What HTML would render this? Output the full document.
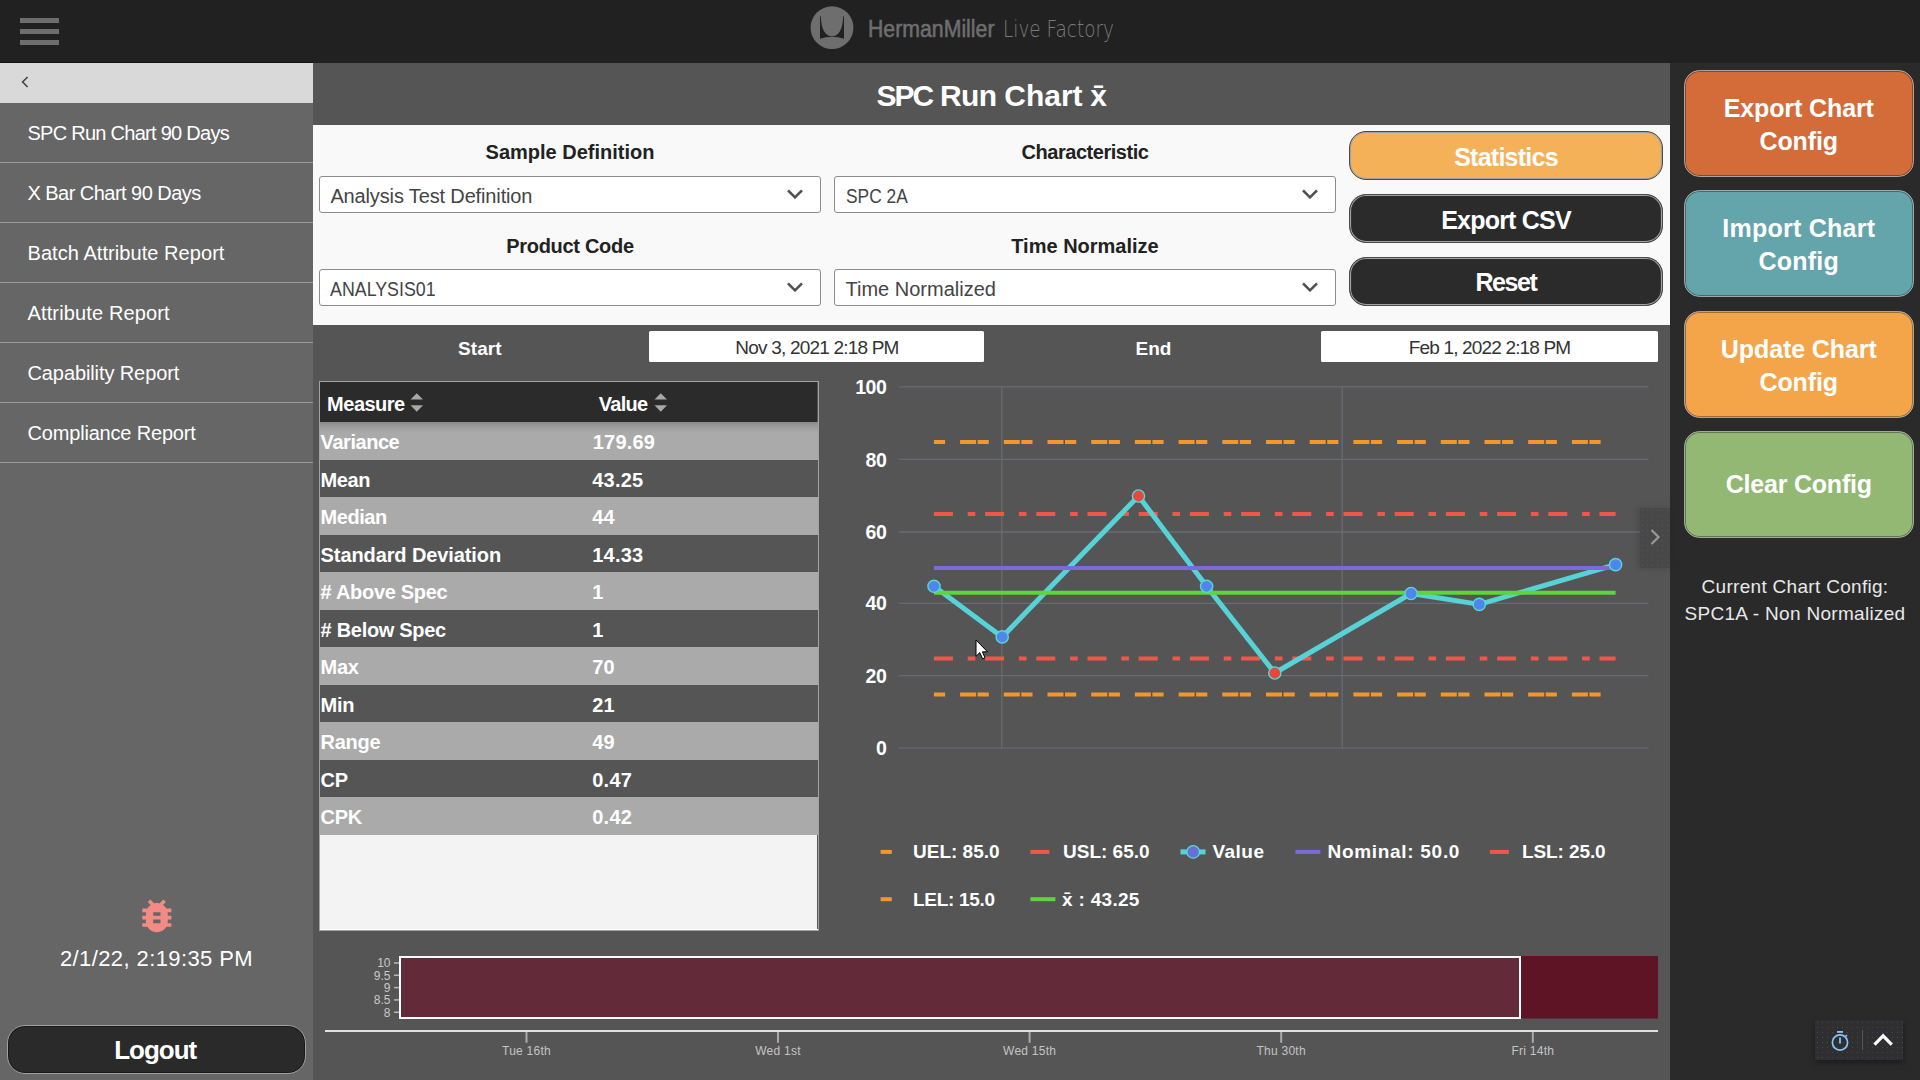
<!DOCTYPE html>
<html><head><meta charset="utf-8"><title>SPC Run Chart</title>
<style>
*{box-sizing:border-box;margin:0;padding:0}
html,body{width:1920px;height:1080px;overflow:hidden;background:#555;font-family:"Liberation Sans",Arial,sans-serif;position:relative}
.a{position:absolute}
.t{position:absolute;line-height:1;white-space:nowrap}
.c{text-align:center}
.b{font-weight:bold}
.hb{position:absolute;left:20px;width:39px;height:5px;background:#6e6e6e}
.sep{position:absolute;left:0;width:313px;height:1px;background:#9a9a9a}
.si{position:absolute;left:27.5px;font-size:20px;line-height:1;color:#fff;letter-spacing:-0.7px;white-space:nowrap}
.sel{position:absolute;width:501.5px;height:36.5px;background:#fff;border:1.3px solid #8c8c8c;border-radius:3px}
.selt{position:absolute;font-size:20px;line-height:1;color:#444;white-space:nowrap}
.lab{position:absolute;width:501px;text-align:center;font-size:20px;line-height:1;font-weight:bold;color:#222;white-space:nowrap}
.btn{position:absolute;left:1349px;width:314px;height:49px;border-radius:17px;border:1.2px solid #4a4a4a;box-shadow:inset 0 0 0 1.1px #a2a2a2}
.btt{position:absolute;left:1349px;width:314px;text-align:center;color:#fff;font-weight:bold;font-size:25px;line-height:1;white-space:nowrap}
.rb{position:absolute;left:1684px;width:229.5px;height:107px;border-radius:15.5px;border:1.2px solid #a4a6a6;box-shadow:inset 0 0 0 1px rgba(0,0,0,0.35)}
.rbt{position:absolute;left:1684px;width:229.5px;color:#fff;font-weight:bold;font-size:25px;line-height:33px;text-align:center;white-space:nowrap;letter-spacing:-0.1px}
.tr{position:absolute;left:320.3px;width:497.5px;height:38px}
.tc{position:absolute;font-size:20px;line-height:1;font-weight:bold;color:#fff;white-space:nowrap}
</style></head>
<body>
<!-- backgrounds -->
<div class="a" style="left:0;top:0;width:1920px;height:63px;background:#212121"></div>
<div class="a" style="left:0;top:62px;width:313px;height:1px;background:#121212"></div>
<div class="a" style="left:0;top:63px;width:313px;height:1017px;background:#666"></div>
<div class="a" style="left:313px;top:63px;width:1357px;height:1017px;background:#555"></div>
<div class="a" style="left:1670px;top:63px;width:250px;height:1017px;background:#2a2a2a"></div>

<!-- TOP BAR -->
<div class="hb" style="top:18px"></div>
<div class="hb" style="top:29px"></div>
<div class="hb" style="top:40px"></div>
<svg class="a" style="left:810px;top:6px" width="45" height="45" viewBox="0 0 45 45">
  <circle cx="22" cy="21.7" r="21.4" fill="#6e6e6e"/>
  <path d="M10 10.2 L10.8 10.2 Q11.5 30 22 30.2 Q32.5 30 33.2 10.2 L34 10.2 L34 32.8 Q22 28.5 10 32.8 Z" fill="#212121"/>
</svg>
<div class="t" style="left:868px;top:18px;font-size:23px;color:#6e6e6e;-webkit-text-stroke:0.55px #6e6e6e;transform:scaleX(0.925);transform-origin:0 0">HermanMiller</div>
<div class="t" style="left:1003px;top:18px;font-size:23px;font-family:'DejaVu Sans',sans-serif;font-weight:200;color:#7a7a7a;transform:scaleX(0.803);transform-origin:0 0">Live Factory</div>

<!-- SIDEBAR -->
<div class="a" style="left:0;top:63px;width:313px;height:39.5px;background:#d9d9d9"></div>
<svg class="a" style="left:20px;top:75px" width="10" height="14" viewBox="0 0 10 14"><path d="M7.6 2 L2.6 7 L7.6 12" fill="none" stroke="#444" stroke-width="1.6"/></svg>
<div class="sep" style="top:162px"></div>
<div class="sep" style="top:222px"></div>
<div class="sep" style="top:282px"></div>
<div class="sep" style="top:342px"></div>
<div class="sep" style="top:402px"></div>
<div class="sep" style="top:462px"></div>
<div class="si" style="top:123px;letter-spacing:-0.73px">SPC Run Chart 90 Days</div>
<div class="si" style="top:183px;letter-spacing:-0.54px">X Bar Chart 90 Days</div>
<div class="si" style="top:243px;letter-spacing:0.06px">Batch Attribute Report</div>
<div class="si" style="top:303px;letter-spacing:0.14px">Attribute Report</div>
<div class="si" style="top:363px;letter-spacing:-0.1px">Capability Report</div>
<div class="si" style="top:423px;letter-spacing:-0.18px">Compliance Report</div>
<svg class="a" style="left:134.6px;top:894.3px" width="43.7" height="43.7" viewBox="0 0 24 24"><path fill="#f28b86" d="M20 8h-2.81c-.45-.78-1.07-1.45-1.82-1.96L17 4.41 15.59 3l-2.17 2.17C12.96 5.06 12.49 5 12 5c-.49 0-.96.06-1.41.17L8.41 3 7 4.41l1.62 1.63C7.880 6.55 7.26 7.22 6.81 8H4v2h2.09c-.05.33-.09.66-.09 1v1H4v2h2v1c0 .34.04.67.09 1H4v2h2.81c1.04 1.79 2.97 3 5.19 3s4.15-1.21 5.19-3H20v-2h-2.09c.05-.33.09-.66.09-1v-1h2v-2h-2v-1c0-.34-.04-.67-.09-1H20V8zm-6 8h-4v-2h4v2zm0-4h-4v-2h4v2z"/></svg>
<div class="t c" style="left:0;width:313px;top:948px;font-size:22px;color:#fff;letter-spacing:0.4px">2/1/22, 2:19:35 PM</div>
<div class="a" style="left:6.7px;top:1024.7px;width:299px;height:49px;background:#2a2a2a;border:1.2px solid #a0a0a0;box-shadow:inset 0 0 0 1px rgba(0,0,0,0.4);border-radius:18px"></div>
<div class="t c b" style="left:5.75px;width:299px;top:1037px;font-size:26px;color:#fff;letter-spacing:-1px">Logout</div>

<!-- MAIN HEADER -->
<div class="t c b" style="left:313px;width:1357px;top:81px;font-size:30px;color:#fff;letter-spacing:-0.6px"><span style="letter-spacing:-2px">SPC</span> Run <span style="letter-spacing:0px">Chart</span> x̄</div>

<!-- FORM PANEL -->
<div class="a" style="left:313px;top:125px;width:1357px;height:200px;background:#f9f9f9"></div>
<div class="lab" style="left:319.5px;top:142px">Sample Definition</div>
<div class="lab" style="left:834.5px;top:142px;letter-spacing:-0.46px">Characteristic</div>
<div class="lab" style="left:319.5px;top:236px;letter-spacing:-0.3px">Product Code</div>
<div class="lab" style="left:834.5px;top:236px">Time Normalize</div>
<div class="sel" style="left:319.3px;top:176.2px"></div>
<div class="sel" style="left:834.2px;top:176.2px"></div>
<div class="sel" style="left:319.3px;top:269.2px"></div>
<div class="sel" style="left:834.2px;top:269.2px"></div>
<div class="selt" style="left:330.4px;top:186px;letter-spacing:-0.14px">Analysis Test Definition</div>
<div class="selt" style="left:845.5px;top:186px;transform:scaleX(0.868);transform-origin:0 0">SPC 2A</div>
<div class="selt" style="left:330.2px;top:279px;transform:scaleX(0.891);transform-origin:0 0">ANALYSIS01</div>
<div class="selt" style="left:845.5px;top:279px;letter-spacing:0px">Time Normalized</div>
<svg class="a" style="left:787px;top:189px" width="16" height="10" viewBox="0 0 16 10"><path d="M1 1.3 L8 8.3 L15 1.3" fill="none" stroke="#505050" stroke-width="2.6"/></svg>
<svg class="a" style="left:1302px;top:189px" width="16" height="10" viewBox="0 0 16 10"><path d="M1 1.3 L8 8.3 L15 1.3" fill="none" stroke="#505050" stroke-width="2.6"/></svg>
<svg class="a" style="left:787px;top:282px" width="16" height="10" viewBox="0 0 16 10"><path d="M1 1.3 L8 8.3 L15 1.3" fill="none" stroke="#505050" stroke-width="2.6"/></svg>
<svg class="a" style="left:1302px;top:282px" width="16" height="10" viewBox="0 0 16 10"><path d="M1 1.3 L8 8.3 L15 1.3" fill="none" stroke="#505050" stroke-width="2.6"/></svg>
<div class="btn" style="top:131px;background:#f5b158"></div>
<div class="btn" style="top:194px;background:#2b2b2b"></div>
<div class="btn" style="top:256.5px;background:#2b2b2b"></div>
<div class="btt" style="top:145.3px;letter-spacing:-0.75px">Statistics</div>
<div class="btt" style="top:207.7px;letter-spacing:-0.8px">Export CSV</div>
<div class="btt" style="top:270.3px;letter-spacing:-1.4px">Reset</div>

<!-- DATE ROW -->
<div class="t b" style="left:458px;top:339px;font-size:19px;color:#fff;letter-spacing:0.1px">Start</div>
<div class="a" style="left:649.4px;top:331.1px;width:334.9px;height:31.2px;background:#fff;border-radius:1.5px"></div>
<div class="t c" style="left:649.7px;width:334.6px;top:338px;font-size:19px;color:#333;letter-spacing:-0.8px">Nov 3, 2021 2:18 PM</div>
<div class="t b" style="left:1135.5px;top:339px;font-size:19px;color:#fff">End</div>
<div class="a" style="left:1321.4px;top:331.2px;width:336.4px;height:31px;background:#fff;border-radius:1.5px"></div>
<div class="t c" style="left:1321.4px;width:336.4px;top:338px;font-size:19px;color:#333;letter-spacing:-0.84px">Feb 1, 2022 2:18 PM</div>

<!-- TABLE -->
<div class="a" style="left:319px;top:381px;width:499.5px;height:549.5px;border:1.3px solid #a2a2a2;background:#555"></div>
<div class="a" style="left:320.3px;top:834px;width:497.2px;height:95px;background:#f3f3f3"></div>
<div class="a" style="left:320.3px;top:382.3px;width:497.2px;height:39.5px;background:#2b2b2b"></div>
<div class="tc" style="left:327.1px;top:394px;letter-spacing:-0.5px">Measure</div>
<div class="tc" style="left:598.7px;top:394px;letter-spacing:-0.7px">Value</div>
<svg class="a" style="left:409.5px;top:392.5px" width="14" height="19" viewBox="0 0 14 19"><path d="M0.5 6.5 L6.75 0.3 L13 6.5Z M0.5 12.2 L6.75 18.7 L13 12.2Z" fill="#a8a8a8"/></svg>
<svg class="a" style="left:653.5px;top:392.5px" width="14" height="19" viewBox="0 0 14 19"><path d="M0.5 6.5 L6.75 0.3 L13 6.5Z M0.5 12.2 L6.75 18.7 L13 12.2Z" fill="#a8a8a8"/></svg>
<div class="tr" style="top:421.8px;background:linear-gradient(#8c8c8c,#a0a0a0 6px,#aaa 11px,#aaa)"></div>
<div class="tr" style="top:459.5px;background:#555"></div>
<div class="tr" style="top:497px;background:#aaa"></div>
<div class="tr" style="top:534.5px;background:#555"></div>
<div class="tr" style="top:572px;background:#aaa"></div>
<div class="tr" style="top:609.5px;background:#555"></div>
<div class="tr" style="top:647px;background:#aaa"></div>
<div class="tr" style="top:684.5px;background:#555"></div>
<div class="tr" style="top:722px;background:#aaa"></div>
<div class="tr" style="top:759.5px;background:#555"></div>
<div class="tr" style="top:797px;background:#aaa"></div>
<div class="a" style="left:320px;top:928.6px;width:498px;height:1px;background:#fff"></div>
<div class="tc" style="left:320.6px;top:432px;letter-spacing:-0.45px">Variance</div>
<div class="tc" style="left:320.6px;top:469.5px;letter-spacing:-0.45px">Mean</div>
<div class="tc" style="left:320.6px;top:507px;letter-spacing:-0.45px">Median</div>
<div class="tc" style="left:320.6px;top:544.5px;letter-spacing:-0.1px">Standard Deviation</div>
<div class="tc" style="left:320.6px;top:582px;letter-spacing:-0.3px"># Above Spec</div>
<div class="tc" style="left:320.6px;top:619.5px;letter-spacing:-0.3px"># Below Spec</div>
<div class="tc" style="left:320.6px;top:657px;letter-spacing:-0.3px">Max</div>
<div class="tc" style="left:320.6px;top:694.5px;letter-spacing:-0.3px">Min</div>
<div class="tc" style="left:320.6px;top:732px;letter-spacing:-0.3px">Range</div>
<div class="tc" style="left:320.6px;top:769.5px;letter-spacing:-0.3px">CP</div>
<div class="tc" style="left:320.6px;top:807px;letter-spacing:-0.3px">CPK</div>
<div class="tc" style="left:592.8px;top:432px;letter-spacing:0.2px">179.69</div>
<div class="tc" style="left:592.3px;top:469.5px;letter-spacing:0.2px">43.25</div>
<div class="tc" style="left:592.3px;top:507px;letter-spacing:0.2px">44</div>
<div class="tc" style="left:592.3px;top:544.5px;letter-spacing:0.2px">14.33</div>
<div class="tc" style="left:592.3px;top:582px;letter-spacing:0.2px">1</div>
<div class="tc" style="left:592.3px;top:619.5px;letter-spacing:0.2px">1</div>
<div class="tc" style="left:592.3px;top:657px;letter-spacing:0.2px">70</div>
<div class="tc" style="left:592.3px;top:694.5px;letter-spacing:0.2px">21</div>
<div class="tc" style="left:592.3px;top:732px;letter-spacing:0.2px">49</div>
<div class="tc" style="left:592.3px;top:769.5px;letter-spacing:0.2px">0.47</div>
<div class="tc" style="left:592.3px;top:807px;letter-spacing:0.2px">0.42</div>

<!-- CHART -->
<svg class="a" style="left:0;top:0" width="1920" height="1080" viewBox="0 0 1920 1080">
<line x1="899" y1="386.9" x2="1648.5" y2="386.9" stroke="#686b72" stroke-width="1.3"/>
<line x1="899" y1="459.4" x2="1648.5" y2="459.4" stroke="#686b72" stroke-width="1.3"/>
<line x1="899" y1="532.0" x2="1648.5" y2="532.0" stroke="#686b72" stroke-width="1.3"/>
<line x1="899" y1="603.3" x2="1648.5" y2="603.3" stroke="#686b72" stroke-width="1.3"/>
<line x1="899" y1="675.6" x2="1648.5" y2="675.6" stroke="#686b72" stroke-width="1.3"/>
<line x1="899" y1="748" x2="1648.5" y2="748" stroke="#62656b" stroke-width="1.3"/>
<line x1="1001.8" y1="386.5" x2="1001.8" y2="748" stroke="#686b72" stroke-width="1.3"/>
<line x1="1342.2" y1="386.5" x2="1342.2" y2="748" stroke="#686b72" stroke-width="1.3"/>
<text x="886.5" y="394.0" text-anchor="end" font-size="19.5" font-weight="bold" fill="#fff" letter-spacing="-0.4">100</text>
<text x="886.5" y="466.5" text-anchor="end" font-size="19.5" font-weight="bold" fill="#fff" letter-spacing="-0.4">80</text>
<text x="886.5" y="539.1" text-anchor="end" font-size="19.5" font-weight="bold" fill="#fff" letter-spacing="-0.4">60</text>
<text x="886.5" y="610.4" text-anchor="end" font-size="19.5" font-weight="bold" fill="#fff" letter-spacing="-0.4">40</text>
<text x="886.5" y="682.7" text-anchor="end" font-size="19.5" font-weight="bold" fill="#fff" letter-spacing="-0.4">20</text>
<text x="886.5" y="755.1" text-anchor="end" font-size="19.5" font-weight="bold" fill="#fff" letter-spacing="-0.4">0</text>
<line x1="933.9" y1="441.9" x2="1615.6" y2="441.9" stroke="#f3962c" stroke-width="4" stroke-dasharray="11.2 15 16 1.5"/>
<line x1="933.9" y1="694.6" x2="1615.6" y2="694.6" stroke="#f3962c" stroke-width="4" stroke-dasharray="11.2 15 16 1.5"/>
<line x1="933.9" y1="514" x2="1615.6" y2="514" stroke="#ef5848" stroke-width="4" stroke-dasharray="19 14.8 7.6 9.8"/>
<line x1="933.9" y1="658.6" x2="1615.6" y2="658.6" stroke="#ef5848" stroke-width="4" stroke-dasharray="19 14.8 7.6 9.8"/>
<path d="M934.0 586.3 L1002.2 636.9 L1138.5 496.0 L1206.6 586.3 L1274.8 673.0 L1411.1 593.5 L1479.3 604.4 L1615.6 564.6" fill="none" stroke="#57d3d7" stroke-width="5" stroke-linejoin="round"/>
<line x1="934" y1="568" x2="1615.6" y2="568" stroke="#7b6bd8" stroke-width="4"/>
<line x1="934" y1="592.7" x2="1615.6" y2="592.7" stroke="#5cd639" stroke-width="4"/>
<circle cx="934.0" cy="586.3" r="6.1" fill="#4f86ec" stroke="#5ad6d9" stroke-width="1.4"/>
<circle cx="1002.2" cy="636.9" r="6.1" fill="#4f86ec" stroke="#5ad6d9" stroke-width="1.4"/>
<circle cx="1138.5" cy="496.0" r="6.1" fill="#e8483c" stroke="#5ad6d9" stroke-width="1.4"/>
<circle cx="1206.6" cy="586.3" r="6.1" fill="#4f86ec" stroke="#5ad6d9" stroke-width="1.4"/>
<circle cx="1274.8" cy="673.0" r="6.1" fill="#e8483c" stroke="#5ad6d9" stroke-width="1.4"/>
<circle cx="1411.1" cy="593.5" r="6.1" fill="#4f86ec" stroke="#5ad6d9" stroke-width="1.4"/>
<circle cx="1479.3" cy="604.4" r="6.1" fill="#4f86ec" stroke="#5ad6d9" stroke-width="1.4"/>
<circle cx="1615.6" cy="564.6" r="6.1" fill="#4f86ec" stroke="#5ad6d9" stroke-width="1.4"/>
</svg>
<!-- CHART SIDE BUTTON -->
<div class="a" style="left:1640px;top:508px;width:30px;height:60px;background:#484848 radial-gradient(circle,rgba(120,120,130,0.28) 0.55px,transparent 0.9px) 0 0/5px 5px;box-shadow:-2px 0 6px rgba(0,0,0,0.15)"></div>
<svg class="a" style="left:1649px;top:528px" width="13" height="18" viewBox="0 0 13 18"><path d="M2.5 2 L9.5 9 L2.5 16" fill="none" stroke="#999" stroke-width="2.2"/></svg>

<!-- LEGEND -->
<svg class="a" style="left:0;top:0" width="1920" height="1080" viewBox="0 0 1920 1080">
<g stroke-width="4">
<line x1="880.6" y1="851.9" x2="891.8" y2="851.9" stroke="#f3962c"/>
<line x1="1030.4" y1="851.9" x2="1049.4" y2="851.9" stroke="#ef5848"/>
<line x1="1180.5" y1="851.9" x2="1205.5" y2="851.9" stroke="#57d3d7" stroke-width="5"/>
<line x1="1295.4" y1="851.9" x2="1320.4" y2="851.9" stroke="#7b6bd8"/>
<line x1="1489.9" y1="851.9" x2="1508.9" y2="851.9" stroke="#ef5848"/>
<line x1="880.6" y1="899.2" x2="891.8" y2="899.2" stroke="#f3962c"/>
<line x1="1030.4" y1="899.2" x2="1055.4" y2="899.2" stroke="#5cd639"/>
</g>
<circle cx="1193.2" cy="851.9" r="6.3" fill="#6870d8" stroke="#5ad6d9" stroke-width="1.3"/>
<g font-size="19" font-weight="bold" fill="#fff">
<text x="913" y="858">UEL: 85.0</text>
<text x="1063" y="858">USL: 65.0</text>
<text x="1212.5" y="858" letter-spacing="0.45">Value</text>
<text x="1327.5" y="858" letter-spacing="0.7">Nominal: 50.0</text>
<text x="1522" y="858" letter-spacing="-0.1">LSL: 25.0</text>
<text x="913" y="905.5" letter-spacing="-0.3">LEL: 15.0</text>
<text x="1062" y="905.5" letter-spacing="0.3">x̄ : 43.25</text>
</g>
</svg>

<!-- NAVIGATOR -->
<svg class="a" style="left:0;top:0" width="1920" height="1080" viewBox="0 0 1920 1080">
<rect x="399" y="956" width="1259" height="62.5" fill="#5e1425"/>
<rect x="400" y="957" width="1120" height="61" fill="#632a3a" stroke="#fff" stroke-width="2"/>
<g stroke="#b8b8b8" stroke-width="1.5">
<line x1="394" y1="963" x2="399" y2="963"/><line x1="394" y1="975.3" x2="399" y2="975.3"/><line x1="394" y1="987.6" x2="399" y2="987.6"/><line x1="394" y1="999.9" x2="399" y2="999.9"/><line x1="394" y1="1012.3" x2="399" y2="1012.3"/>
</g>
<g font-size="12" fill="#c8c8c8" text-anchor="end">
<text x="390.5" y="967.3">10</text><text x="390.5" y="979.6">9.5</text><text x="390.5" y="991.9">9</text><text x="390.5" y="1004.2">8.5</text><text x="390.5" y="1016.6">8</text>
</g>
<line x1="325" y1="1031" x2="1658" y2="1031" stroke="#e0e0e0" stroke-width="2"/>
<g stroke="#aaa" stroke-width="2">
<line x1="526.5" y1="1032" x2="526.5" y2="1042.8"/><line x1="778" y1="1032" x2="778" y2="1042.8"/><line x1="1029.6" y1="1032" x2="1029.6" y2="1042.8"/><line x1="1281.2" y1="1032" x2="1281.2" y2="1042.8"/><line x1="1532.8" y1="1032" x2="1532.8" y2="1042.8"/>
</g>
<g font-size="12" fill="#c4c4c4" text-anchor="middle" letter-spacing="0.25">
<text x="526.5" y="1054.9">Tue 16th</text><text x="778" y="1054.9">Wed 1st</text><text x="1029.6" y="1054.9">Wed 15th</text><text x="1281.2" y="1054.9">Thu 30th</text><text x="1532.8" y="1054.9">Fri 14th</text>
</g>
</svg>

<!-- MOUSE CURSOR -->
<svg class="a" style="left:975.3px;top:639.2px" width="15" height="22" viewBox="0 0 15 22"><path d="M1 1 L1 17.3 L4.8 13.6 L7.6 19.8 L10 18.8 L7.4 12.8 L12.5 12.8 Z" fill="#fff" stroke="#000" stroke-width="1" stroke-linejoin="round"/></svg>

<!-- RIGHT PANEL -->
<div class="rb" style="top:70px;background:#d46c39"></div>
<div class="rb" style="top:190px;background:#64a5ab"></div>
<div class="rb" style="top:310.8px;background:#f4a549"></div>
<div class="rb" style="top:430.6px;background:#93b874"></div>
<div class="rbt" style="top:92px">Export Chart<br>Config</div>
<div class="rbt" style="top:212px;letter-spacing:0.25px">Import Chart<br>Config</div>
<div class="rbt" style="top:333px">Update Chart<br>Config</div>
<div class="rbt" style="top:468.4px;letter-spacing:-0.2px">Clear Config</div>
<div class="t c" style="left:1670px;width:250px;top:573.8px;font-size:19px;line-height:26.8px;color:#e8e8e8;letter-spacing:0.3px;white-space:normal">Current Chart Config:<br>SPC1A - Non Normalized</div>
<!-- WIDGET -->
<div class="a" style="left:1815px;top:1020px;width:88px;height:40px;background:#2f2f2f radial-gradient(circle,rgba(100,110,220,0.35) 0.55px,transparent 0.9px) 0 0/5px 5px;box-shadow:0 3px 6px rgba(0,0,0,0.35)"></div>
<svg class="a" style="left:1815px;top:1020px" width="88" height="40" viewBox="0 0 88 40">
<rect x="22" y="11" width="6" height="1.8" fill="#8ac4ff"/>
<circle cx="25" cy="22.5" r="7.6" fill="none" stroke="#8ac4ff" stroke-width="1.7"/>
<line x1="25" y1="17.5" x2="25" y2="23.5" stroke="#8ac4ff" stroke-width="1.8"/>
<line x1="30.5" y1="16.5" x2="32" y2="15" stroke="#8ac4ff" stroke-width="1.6"/>
<line x1="47.5" y1="10" x2="47.5" y2="30" stroke="#555" stroke-width="1"/>
<path d="M59.5 24.6 L68.1 15.8 L76.7 24.6" fill="none" stroke="#fff" stroke-width="3.1"/>
</svg>
</body></html>
